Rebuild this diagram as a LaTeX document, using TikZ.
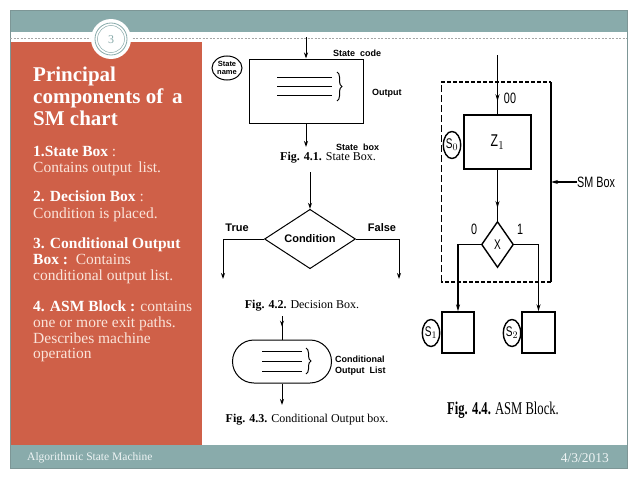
\documentclass[tikz,border=0pt]{standalone}
\usepackage{fontspec}
\setmainfont{Liberation Serif}
\newfontfamily\lsans{Liberation Sans}
\newfontfamily\nsans[FakeStretch=0.72]{Liberation Sans}
\newfontfamily\nserif[FakeStretch=0.7]{Liberation Serif}
\usetikzlibrary{arrows.meta,shapes.geometric,shapes.misc,decorations.pathreplacing,decorations.markings}
\definecolor{slideorange}{RGB}{207,96,72}
\definecolor{slideteal}{RGB}{137,171,171}
\definecolor{peach}{RGB}{250,228,218}
\definecolor{framegray}{RGB}{125,150,150}
\definecolor{footwhite}{RGB}{238,244,244}
\begin{document}
\begin{tikzpicture}[x=1pt,y=-1pt,
  ln/.style={line width=1pt,black},
  lnb/.style={line width=1.4pt,black},
  arr/.style={ln,-{Stealth[length=6pt,width=4pt]}},
  arrb/.style={lnb,-{Stealth[length=7pt,width=4pt]}},
  marr/.style={ln,postaction={decorate},decoration={markings,mark=at position #1 with {\arrow{Stealth[length=6pt,width=4pt]}}}},
  marrb/.style={lnb,postaction={decorate},decoration={markings,mark=at position #1 with {\arrow{Stealth[length=7pt,width=4pt]}}}},
  title/.style={anchor=base west,inner sep=0pt,text=white,font=\bfseries\fontsize{21}{24}\selectfont},
  body/.style={anchor=base west,inner sep=0pt,text=peach,font=\fontsize{15.5}{16}\selectfont},
  lab/.style={inner sep=0pt,font=\lsans\bfseries\fontsize{9}{10.5}\selectfont},
  lab2/.style={inner sep=0pt,font=\lsans\bfseries\fontsize{11}{12}\selectfont},
  figcap/.style={inner sep=0pt,font=\fontsize{12}{13}\selectfont},
  nlab/.style={inner sep=0pt,font=\nsans\fontsize{15}{15}\selectfont},
  sname/.style={draw,lnb,ellipse,inner sep=0pt,minimum width=15,minimum height=27,font=\nsans\fontsize{14}{14}\selectfont}
]
\useasboundingbox (0,0) rectangle (638,479);
\fill[white] (0,0) rectangle (638,479);
% slide frame
\fill[slideteal] (10,10) rectangle (627,32);
\fill[slideteal] (10,445) rectangle (627,468);
\fill[slideorange] (11,42) rectangle (202,445);
\draw[framegray,line width=0.8pt] (10,10) rectangle (627,468);
\draw[gray!70,line width=0.6pt,dash pattern=on 2pt off 1.5pt] (10,38) -- (627,38);
\fill[white] (111,39) circle (20);
\draw[slideteal,line width=0.8pt] (111,39) circle (16);
\draw[slideteal,line width=0.5pt] (111,39) circle (13.5);
\node[inner sep=0pt,text=slideteal,font=\fontsize{12}{12}\selectfont] (pnum) at (111,40) {3};
% left panel text
\node[title] (t1) at (33,81) {Principal};
\node[title] (t2) at (33,103) {components of\, a};
\node[title] (t3) at (33,125) {SM chart};
\node[body] (b1) at (33,156) {\textcolor{white}{\bfseries 1.State Box} :};
\node[body] (b2) at (33,172) {Contains output\, list.};
\node[body] (b3) at (33,201) {\textcolor{white}{\bfseries 2. Decision Box} :};
\node[body] (b4) at (33,218) {Condition is placed.};
\node[body] (b5) at (33,248) {\textcolor{white}{\bfseries 3. Conditional Output}};
\node[body] (b6) at (33,264) {\textcolor{white}{\bfseries Box :}\, Contains};
\node[body] (b7) at (33,280) {conditional output list.};
\node[body] (b8) at (33,311) {\textcolor{white}{\bfseries 4. ASM Block :} contains};
\node[body] (b9) at (33,327) {one or more exit paths.};
\node[body] (b10) at (33,343) {Describes machine};
\node[body] (b11) at (33,358) {operation};
% footer
\node[anchor=base west,inner sep=0pt,text=footwhite,font=\fontsize{11.5}{12}\selectfont] (foot) at (27,460) {Algorithmic State Machine};
\node[anchor=base east,inner sep=0pt,text=footwhite,font=\fontsize{13.5}{14}\selectfont] (date) at (609,462) {4/3/2013};
% Fig 4.1 State box
\node[draw,ln,minimum width=114,minimum height=64,inner sep=0pt] (sbox) at (306,91) {};
\coordinate (sin) at (306,37);
\coordinate (sout) at (306,147);
\draw[arr] (sin) -- (sbox.north);
\draw[arr] (sbox.south) -- (sout);
\draw[ln] (277,77) -- (332,77) (277,86) -- (332,86) (277,95) -- (332,95);
\draw[ln,decorate,decoration={brace,amplitude=5pt}] (337,72) -- (337,101);
\node[draw,ln,ellipse,inner sep=0pt,minimum width=30,minimum height=24,align=center,font=\lsans\bfseries\fontsize{7.5}{7.5}\selectfont] (sn) at (227,68) {State\\name};
\node[lab,anchor=west] (scode) at (333,53) {State\ \ code};
\node[lab,anchor=west] (outl) at (372,93) {Output};
\node[lab,anchor=west] (sbl) at (336,147) {State\ \ box};
\node[figcap] (c1) at (328,158) {\textbf{Fig. 4.1.} State Box.};
% Fig 4.2 Decision box
\node[draw,ln,diamond,inner sep=0pt,minimum width=91,minimum height=54,font=\lsans\bfseries\fontsize{11}{12}\selectfont] (dec) at (310,239) {Condition};
\coordinate (din) at (310,172);
\coordinate (dt) at (223,279);
\coordinate (df) at (399,279);
\draw[arr] (din) -- (dec.north);
\draw[arr] (dec.west) -| (dt);
\draw[arr] (dec.east) -| (df);
\node[lab2] (tr) at (237,228) {True};
\node[lab2] (fa) at (382,228) {False};
\node[figcap] (c2) at (302,306) {\textbf{Fig. 4.2.} Decision Box.};
% Fig 4.3 Conditional output box
\node[draw,ln,rounded rectangle,inner sep=0pt,minimum width=99,minimum height=43] (cbox) at (282,361.5) {};
\coordinate (cin) at (282,316);
\coordinate (cout) at (282,405);
\draw[marr=0.45] (cin) -- (cbox.north);
\draw[arr] (cbox.south) -- (cout);
\draw[ln] (262,351) -- (302,351) (262,361) -- (302,361) (262,371) -- (302,371);
\draw[ln,decorate,decoration={brace,amplitude=5pt}] (306,348) -- (306,374);
\node[lab,anchor=west,align=left] (clab) at (335,365.5) {Conditional\\Output\ \ List};
\node[figcap] (c3) at (307,420) {\textbf{Fig. 4.3.} Conditional Output box.};
% Fig 4.4 ASM block
\coordinate (smtl) at (441,82);
\coordinate (smtr) at (551,82);
\coordinate (smbr) at (551,282);
\coordinate (smbl) at (441,282);
\draw[line width=1.6pt,dash pattern=on 4pt off 2pt] (smtl) -- (smtr);
\draw[line width=1.8pt] (smtr) -- (smbr);
\draw[line width=1.5pt,dash pattern=on 4pt off 2pt] (smbr) -- (smbl);
\draw[line width=1pt,dash pattern=on 7pt off 3pt] (smbl) -- (smtl);
\node[draw,lnb,minimum width=67,minimum height=54,inner sep=0pt,font=\nsans\fontsize{17}{17}\selectfont] (z1) at (497.5,142) {Z$_1$};
\coordinate (ain) at (497.5,55);
\draw[marrb=0.78] (ain) -- (z1.north);
\node[nlab] (oo) at (510,98) {00};
\node[sname] (s0) at (452,145) {S$_0$};
\node[draw,lnb,diamond,inner sep=0pt,minimum width=32,minimum height=46,font=\nsans\fontsize{14}{14}\selectfont] (xd) at (497.5,244.5) {X};
\draw[marrb=0.75] (z1.south) -- (xd.north);
\node[nlab] (l0) at (474,229) {0};
\node[nlab] (l1) at (520,229) {1};
\node[draw,lnb,minimum width=32,minimum height=41,inner sep=0pt] (s1b) at (458,332.5) {};
\node[draw,lnb,minimum width=33,minimum height=41,inner sep=0pt] (s2b) at (538.5,332.5) {};
\draw[arrb] (xd.west) -| (s1b.north);
\draw[arrb] (xd.east) -| (s2b.north);
\node[sname] (s1) at (431,333) {S$_1$};
\node[sname] (s2) at (512,333) {S$_2$};
\node[nlab,anchor=west] (smlab) at (577,182) {SM\ Box};
\coordinate (smedge) at (551,182);
\draw[arrb] (smlab.west) -- (smedge);
\node[inner sep=0pt,font=\nserif\fontsize{18}{18}\selectfont] (c4) at (503,410) {\textbf{Fig. 4.4.} ASM Block.};
\end{tikzpicture}
\end{document}
